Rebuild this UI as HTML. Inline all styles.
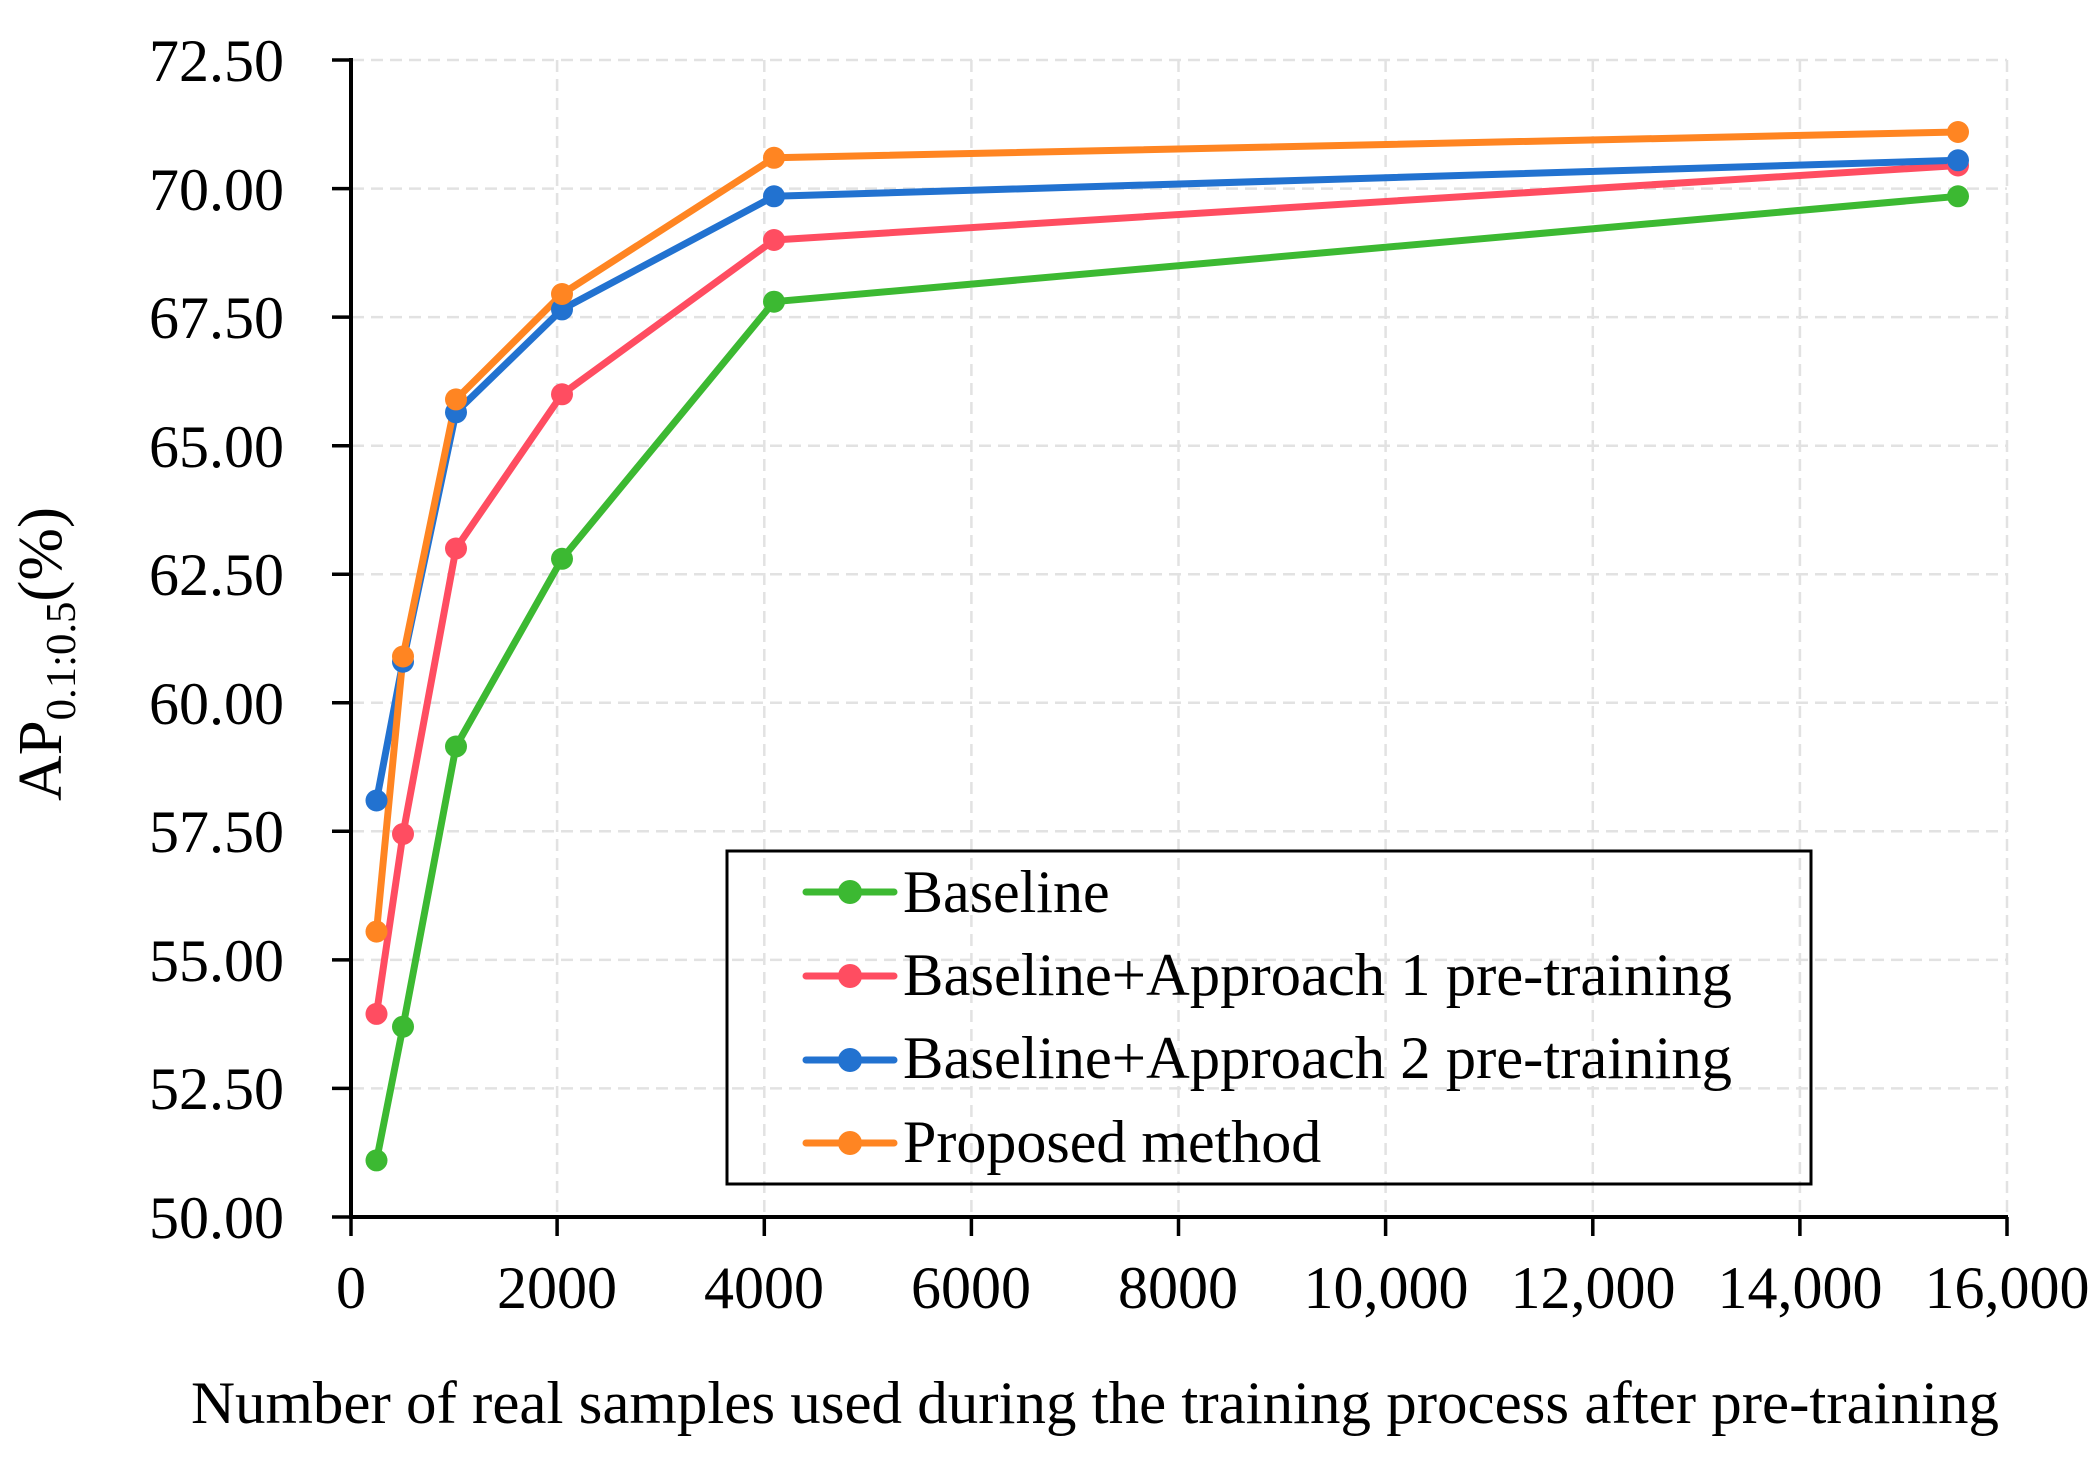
<!DOCTYPE html>
<html><head><meta charset="utf-8"><style>html,body{margin:0;padding:0;background:#fff}svg{display:block}</style></head>
<body>
<svg width="2093" height="1460" viewBox="0 0 2093 1460" xmlns="http://www.w3.org/2000/svg" font-family="'Liberation Serif', serif">
<rect width="2093" height="1460" fill="#fff"/>
<g stroke="#e2e2e2" stroke-width="2.5" stroke-dasharray="12,7" fill="none">
<line x1="352" y1="60" x2="2007" y2="60"/>
<line x1="352" y1="188.6" x2="2007" y2="188.6"/>
<line x1="352" y1="317.1" x2="2007" y2="317.1"/>
<line x1="352" y1="445.7" x2="2007" y2="445.7"/>
<line x1="352" y1="574.2" x2="2007" y2="574.2"/>
<line x1="352" y1="702.8" x2="2007" y2="702.8"/>
<line x1="352" y1="831.3" x2="2007" y2="831.3"/>
<line x1="352" y1="959.9" x2="2007" y2="959.9"/>
<line x1="352" y1="1088.4" x2="2007" y2="1088.4"/>
<line x1="557.1" y1="60" x2="557.1" y2="1217"/>
<line x1="764.3" y1="60" x2="764.3" y2="1217"/>
<line x1="971.4" y1="60" x2="971.4" y2="1217"/>
<line x1="1178.5" y1="60" x2="1178.5" y2="1217"/>
<line x1="1385.6" y1="60" x2="1385.6" y2="1217"/>
<line x1="1592.8" y1="60" x2="1592.8" y2="1217"/>
<line x1="1799.9" y1="60" x2="1799.9" y2="1217"/>
<line x1="2007" y1="60" x2="2007" y2="1217"/>
</g>
<g stroke="#000" stroke-width="4" fill="none">
<line x1="351" y1="58" x2="351" y2="1219"/>
<line x1="349" y1="1217" x2="2008" y2="1217"/>
<g stroke-width="3.5">
<line x1="332" y1="60" x2="351" y2="60"/><line x1="332" y1="188.6" x2="351" y2="188.6"/><line x1="332" y1="317.1" x2="351" y2="317.1"/><line x1="332" y1="445.7" x2="351" y2="445.7"/><line x1="332" y1="574.2" x2="351" y2="574.2"/><line x1="332" y1="702.8" x2="351" y2="702.8"/><line x1="332" y1="831.3" x2="351" y2="831.3"/><line x1="332" y1="959.9" x2="351" y2="959.9"/><line x1="332" y1="1088.4" x2="351" y2="1088.4"/><line x1="332" y1="1217" x2="351" y2="1217"/>
<line x1="351" y1="1217" x2="351" y2="1236"/><line x1="557.1" y1="1217" x2="557.1" y2="1236"/><line x1="764.3" y1="1217" x2="764.3" y2="1236"/><line x1="971.4" y1="1217" x2="971.4" y2="1236"/><line x1="1178.5" y1="1217" x2="1178.5" y2="1236"/><line x1="1385.6" y1="1217" x2="1385.6" y2="1236"/><line x1="1592.8" y1="1217" x2="1592.8" y2="1236"/><line x1="1799.9" y1="1217" x2="1799.9" y2="1236"/><line x1="2007" y1="1217" x2="2007" y2="1236"/>
</g></g>
<g font-size="60" text-anchor="end" fill="#000">
<text x="284" y="81">72.50</text><text x="284" y="210">70.00</text><text x="284" y="338">67.50</text><text x="284" y="467">65.00</text><text x="284" y="595">62.50</text><text x="284" y="724">60.00</text><text x="284" y="852">57.50</text><text x="284" y="981">55.00</text><text x="284" y="1109">52.50</text><text x="284" y="1238">50.00</text>
</g>
<g font-size="60" text-anchor="middle" fill="#000">
<text x="351" y="1308">0</text><text x="557" y="1308">2000</text><text x="764" y="1308">4000</text><text x="971" y="1308">6000</text><text x="1178" y="1308">8000</text><text x="1386" y="1308">10,000</text><text x="1593" y="1308">12,000</text><text x="1800" y="1308">14,000</text><text x="2007" y="1308">16,000</text>
</g>
<text x="191" y="1423" font-size="60" textLength="1808" lengthAdjust="spacingAndGlyphs">Number of real samples used during the training process after pre-training</text>
<text transform="translate(61,801) rotate(-90)" font-size="62" textLength="294" lengthAdjust="spacingAndGlyphs">AP<tspan font-size="42" dy="14">0.1:0.5</tspan><tspan dy="-14">(%)</tspan></text>
<g fill="none" stroke-width="7" stroke-linejoin="round">
<polyline stroke="#3cb932" points="376.5,1160.4 403,1026.7 456,746.5 562,558.8 774,301.7 1958,196.3"/>
<polyline stroke="#ff4d61" points="376.5,1013.9 403,834 456,548.5 562,394.3 774,240 1958,165.5"/>
<polyline stroke="#2272d0" points="376.5,800.5 403,661.7 456,412.3 562,309.4 774,196.3 1958,160.3"/>
<polyline stroke="#ff8522" points="376.5,931.6 403,656.5 456,399.4 562,294 774,157.8 1958,132"/>
</g>
<g fill="#3cb932"><circle cx="376.5" cy="1160.4" r="11"/><circle cx="403" cy="1026.7" r="11"/><circle cx="456" cy="746.5" r="11"/><circle cx="562" cy="558.8" r="11"/><circle cx="774" cy="301.7" r="11"/><circle cx="1958" cy="196.3" r="11"/></g>
<g fill="#ff4d61"><circle cx="376.5" cy="1013.9" r="11"/><circle cx="403" cy="834" r="11"/><circle cx="456" cy="548.5" r="11"/><circle cx="562" cy="394.3" r="11"/><circle cx="774" cy="240" r="11"/><circle cx="1958" cy="165.5" r="11"/></g>
<g fill="#2272d0"><circle cx="376.5" cy="800.5" r="11"/><circle cx="403" cy="661.7" r="11"/><circle cx="456" cy="412.3" r="11"/><circle cx="562" cy="309.4" r="11"/><circle cx="774" cy="196.3" r="11"/><circle cx="1958" cy="160.3" r="11"/></g>
<g fill="#ff8522"><circle cx="376.5" cy="931.6" r="11"/><circle cx="403" cy="656.5" r="11"/><circle cx="456" cy="399.4" r="11"/><circle cx="562" cy="294" r="11"/><circle cx="774" cy="157.8" r="11"/><circle cx="1958" cy="132" r="11"/></g>
<rect x="727" y="851" width="1084" height="333" fill="none" stroke="#000" stroke-width="3"/>
<g stroke-width="7" stroke-linecap="round">
<line x1="806" y1="892" x2="894" y2="892" stroke="#3cb932"/><circle cx="850" cy="892" r="12" fill="#3cb932"/>
<line x1="806" y1="976" x2="894" y2="976" stroke="#ff4d61"/><circle cx="850" cy="976" r="12" fill="#ff4d61"/>
<line x1="806" y1="1060" x2="894" y2="1060" stroke="#2272d0"/><circle cx="850" cy="1060" r="12" fill="#2272d0"/>
<line x1="806" y1="1143" x2="894" y2="1143" stroke="#ff8522"/><circle cx="850" cy="1143" r="12" fill="#ff8522"/>
</g>
<g font-size="60" fill="#000">
<text x="903" y="912">Baseline</text>
<text x="903" y="995" textLength="829" lengthAdjust="spacingAndGlyphs">Baseline+Approach 1 pre-training</text>
<text x="903" y="1078" textLength="829" lengthAdjust="spacingAndGlyphs">Baseline+Approach 2 pre-training</text>
<text x="903" y="1162">Proposed method</text>
</g>
</svg>
</body></html>
